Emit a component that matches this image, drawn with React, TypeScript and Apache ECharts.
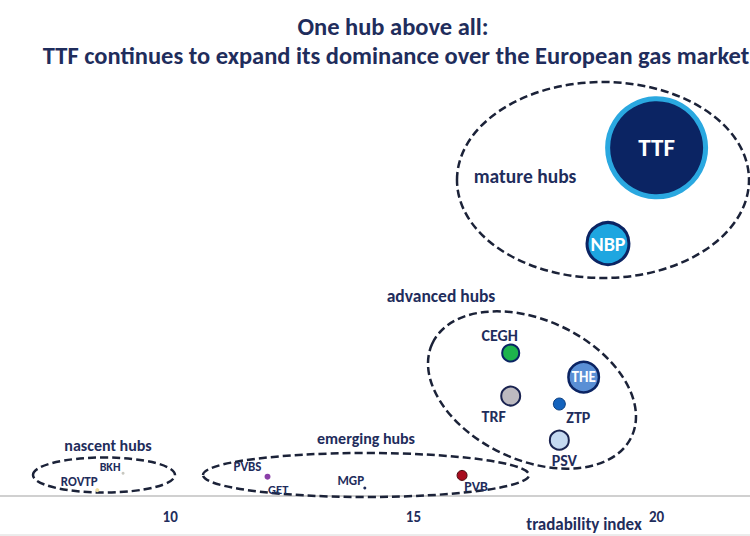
import React, { useEffect, useRef } from "react";
import * as echarts from "echarts";

// ---- data ----
const hubs = ["TTF", "NBP", "CEGH", "THE", "TRF", "ZTP", "PSV", "PVB", "PVBS", "GET", "MGP", "BKH", "ROVTP"];
const tradability = [20, 19, 17, 18.5, 17, 18, 18, 16, 12, 12.2, 14, 9.03, 8.5];
const liquidity = [82.9, 60.1, 34.05, 28.3, 23.8, 21.9, 13.3, 4.9, 4.6, 0.95, 1.9, 5.4, 1.4];
const volume = [96, 17.6, 2.9, 9.3, 3.6, 1.44, 3.6, 1.0, 0.36, 0.04, 0.09, 0.09, 0.16];
const xTicks = [10, 15, 20];

const titleLines = ["One hub above all:", "TTF continues to expand its dominance over the European gas market"];
const groupNames = ["mature hubs", "advanced hubs", "nascent hubs", "emerging hubs"];
const axisTitle = "tradability index";

// ---- styles ----
const NAVY = "#1f2d5c";
const FONT = "Carlito, Lato, sans-serif";

const fills: Record<string, string> = {
  TTF: "#0b2463", NBP: "#1ea6e0", CEGH: "#1db34c", THE: "#5a8fd5", TRF: "#bdbac0",
  ZTP: "#1463bd", PSV: "#c5d9f1", PVB: "#a80c1e", PVBS: "#8a3fa8", GET: "#1f2d5c",
  MGP: "#1f2d5c", BKH: "#c8c8c0", ROVTP: "#ecdca0",
};
const borders: Record<string, [string, number]> = {
  TTF: ["#2aa8e0", 5], NBP: ["#0b2463", 3], CEGH: ["#0b2463", 2], THE: ["#0b2463", 2.5],
  TRF: ["#1a2350", 2], ZTP: ["#0d3f80", 1], PSV: ["#1a2350", 2], PVB: ["#4a0a10", 1],
};
// label offset [dx, dy], fontSize, color
const labelCfg: Record<string, [number, number, number, string]> = {
  TTF: [0, 0, 25, "#ffffff"],
  NBP: [0, 0, 20, "#ffffff"],
  CEGH: [-11, -17, 16, NAVY],
  THE: [0, 0, 15, "#ffffff"],
  TRF: [-17, 20, 16, NAVY],
  ZTP: [19, 13, 16, NAVY],
  PSV: [5, 20, 16, NAVY],
  PVB: [14, 11, 14, NAVY],
  PVBS: [-20, -10, 13, NAVY],
  GET: [1, -3, 12.5, NAVY],
  MGP: [-14, -8, 13, NAVY],
  BKH: [-13, -6, 12, NAVY],
  ROVTP: [-18, -9, 13, NAVY],
};

export default function App() {
  const ref = useRef<HTMLDivElement>(null);
  useEffect(() => {
    if (!ref.current) return;
    const chart = echarts.init(ref.current, null, { renderer: "svg" });
    const data = hubs.map((h, i) => {
      const b = borders[h];
      const l = labelCfg[h];
      return {
        name: h,
        value: [tradability[i], liquidity[i], volume[i]],
        itemStyle: {
          color: fills[h],
          borderColor: b ? b[0] : fills[h],
          borderWidth: b ? b[1] : 0,
          opacity: 1,
        },
        label: {
          show: true,
          formatter: h,
          position: "inside",
          offset: [l[0], l[1]],
          fontSize: l[2],
          color: l[3],
          fontWeight: "bold",
          fontFamily: FONT,
        },
      };
    });
    const dash = { fill: "none", stroke: "#1b2238", lineWidth: 2.5, lineDash: [8, 4] };
    const groupText = (text: string, x: number, y: number, size: number) => ({
      type: "text",
      x,
      y,
      style: {
        text,
        fill: NAVY,
        font: `bold ${size}px ${FONT}`,
        align: "center",
        verticalAlign: "middle",
      },
    });
    chart.setOption({
      animation: false,
      backgroundColor: "#ffffff",
      title: [
        {
          text: titleLines[0],
          left: 388,
          top: 9,
          textAlign: "center",
          textStyle: { color: NAVY, fontSize: 24.5, fontWeight: "bold", fontFamily: FONT },
        },
        {
          text: titleLines[1],
          left: 391,
          top: 38,
          textAlign: "center",
          textStyle: { color: NAVY, fontSize: 24.5, fontWeight: "bold", fontFamily: FONT },
        },
      ],
      grid: { left: 0, right: 0, top: 76, bottom: 40, containLabel: false },
      xAxis: {
        type: "value",
        min: 6.5,
        max: 21.92,
        axisLine: { show: true, lineStyle: { color: "#c0c0c0", width: 1.5 } },
        axisTick: { show: false },
        splitLine: { show: false },
        axisLabel: {
          customValues: xTicks,
          color: NAVY,
          fontWeight: "bold",
          fontSize: 15,
          fontFamily: FONT,
          margin: 13,
        },
      },
      yAxis: { type: "value", min: 0, max: 100, show: false },
      series: [
        {
          type: "scatter",
          symbol: "circle",
          symbolSize: (val: number[]) => Math.sqrt(val[2]) * 10,
          data,
          z: 5,
        },
      ],
      graphic: [
        { type: "ellipse", shape: { cx: 603, cy: 180, rx: 146, ry: 98 }, style: dash, z: 1 },
        { type: "ellipse", x: 532, y: 390, rotation: (-25 * Math.PI) / 180, shape: { cx: 0, cy: 0, rx: 110, ry: 70 }, style: dash, z: 1 },
        { type: "ellipse", shape: { cx: 104, cy: 475, rx: 71, ry: 17.5 }, style: dash, z: 1 },
        { type: "ellipse", shape: { cx: 366, cy: 475, rx: 163, ry: 22 }, style: dash, z: 1 },
        groupText(groupNames[0], 525, 176, 19.5),
        groupText(groupNames[1], 441, 296, 17.5),
        groupText(groupNames[2], 108, 445, 16),
        groupText(groupNames[3], 366, 438, 16),
        groupText(axisTitle, 584, 524, 17),
        { type: "line", shape: { x1: 0, y1: 535, x2: 750, y2: 535 }, style: { stroke: "#d8d8d8", lineWidth: 1 }, z: 0 },
      ],
    });
    return () => chart.dispose();
  }, []);
  return <div ref={ref} style={{ position: "absolute", left: 0, top: 0, width: 750, height: 536 }} />;
}
